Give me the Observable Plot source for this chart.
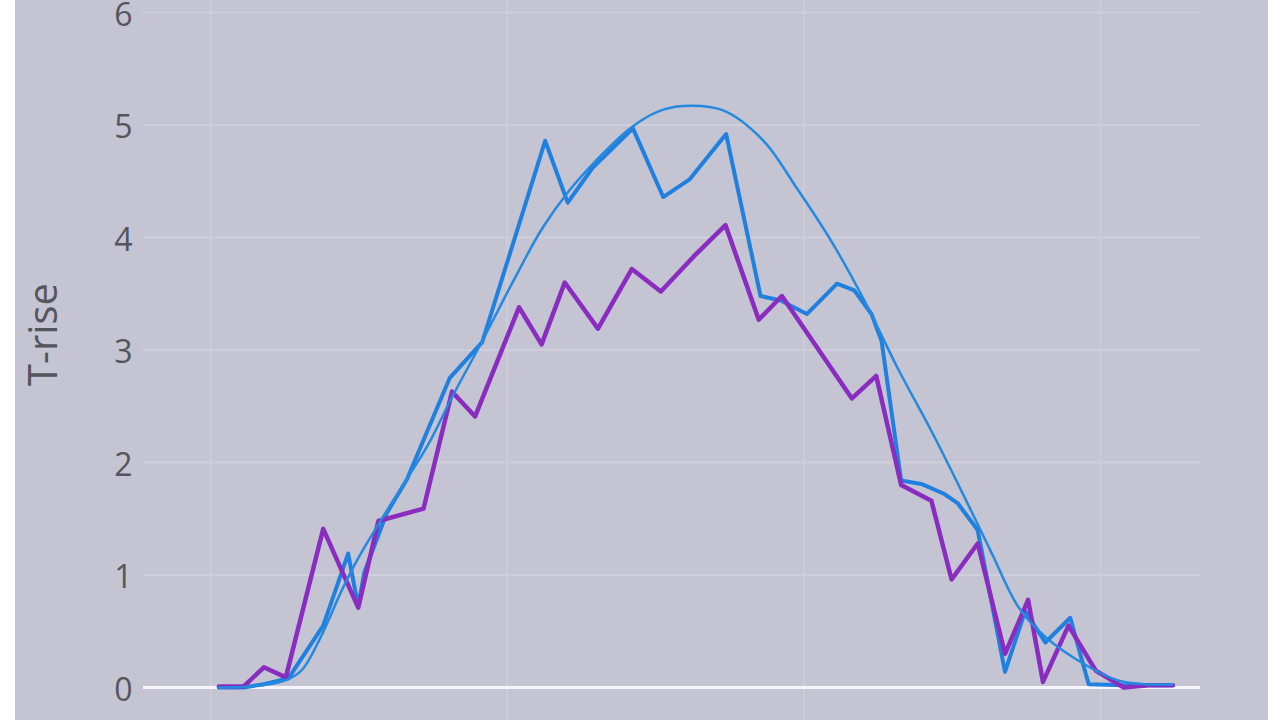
<!DOCTYPE html>
<html><head><meta charset="utf-8">
<script src="https://cdn.jsdelivr.net/npm/d3@7"></script>
<script src="https://cdn.jsdelivr.net/npm/@observablehq/plot@0.6"></script>
<style>
html,body{margin:0;padding:0;background:#fff;width:1280px;height:720px;overflow:hidden}
#chart{position:absolute;left:15px;top:0;width:1253px;height:720px;background:#c4c4d2}
</style></head><body><div id="chart"></div>
<script>
// Measured series (x in hours-like units, y = T-rise)
const purpleX = [5.14,5.56,5.90,6.27,6.90,7.49,7.83,8.59,9.07,9.46,10.20,10.58,10.97,11.53,12.10,12.59,13.14,13.68,14.24,14.63,15.20,15.81,16.22,16.64,17.15,17.49,17.93,18.39,18.78,19.03,19.46,19.92,20.39,20.81,21.22];
const purpleY = [0.01,0.01,0.18,0.09,1.41,0.71,1.48,1.59,2.63,2.41,3.38,3.05,3.60,3.19,3.72,3.52,3.83,4.11,3.27,3.48,3.04,2.57,2.77,1.80,1.66,0.96,1.28,0.30,0.78,0.05,0.55,0.15,0.00,0.02,0.02];

const blueX = [5.14,5.56,5.90,6.31,6.90,7.32,7.49,7.59,7.97,8.31,9.03,9.58,10.64,11.02,11.44,12.12,12.63,13.08,13.69,14.27,14.61,15.05,15.56,15.85,16.14,16.31,16.64,16.98,17.37,17.59,17.93,18.39,18.73,19.07,19.49,19.80,20.39,21.22];
const blueY = [0.00,0.00,0.03,0.08,0.55,1.19,0.72,1.02,1.55,1.85,2.75,3.07,4.86,4.31,4.62,4.97,4.36,4.52,4.92,3.48,3.44,3.32,3.59,3.53,3.32,3.08,1.84,1.81,1.72,1.64,1.40,0.14,0.68,0.40,0.62,0.03,0.02,0.02];

const fitX = [5.14,5.68,6.24,6.53,6.86,7.20,7.49,7.83,8.22,8.68,9.07,9.58,10.14,10.59,11.05,11.49,12.07,12.54,12.97,13.64,14.32,14.88,15.46,16.02,16.58,17.15,17.71,18.17,18.61,19.07,19.75,20.31,20.76,21.22];
const fitY = [0.00,0.01,0.06,0.15,0.45,0.85,1.15,1.45,1.78,2.17,2.58,3.08,3.65,4.08,4.42,4.68,4.97,5.12,5.17,5.13,4.86,4.44,3.97,3.44,2.84,2.28,1.69,1.19,0.72,0.45,0.20,0.06,0.03,0.03];

const yTicks = [0,1,2,3,4,5,6];
const xGrid = [5,10,15,20];
const yLabel = "T-rise";

const toRows = (xs, ys) => xs.map((x, i) => ({x, y: ys[i]}));
const purple = toRows(purpleX, purpleY);
const blue = toRows(blueX, blueY);
const fit = toRows(fitX, fitY);

const chart = Plot.plot({
  width: 1253, height: 720,
  marginLeft: 128, marginRight: 68, marginTop: 0, marginBottom: 0,
  style: {background: "#c4c4d2", fontFamily: "'Open Sans', sans-serif", color: "#55555c", overflow: "visible"},
  x: {domain: [3.871, 21.685], axis: null},
  y: {domain: [-0.293, 6.107], axis: null},
  marks: [
    Plot.ruleX(xGrid, {stroke: "#cdcdda", strokeWidth: 2}),
    Plot.ruleY(yTicks.filter(v => v > 0), {stroke: "#cfcfdb", strokeWidth: 2}),
    Plot.ruleY([0], {stroke: "#f6f6fa", strokeWidth: 3}),
    Plot.axisY(yTicks, {tickSize: 0, tickPadding: 11, fontSize: 32, dy: 3, label: null, tickFormat: d3.format("d"), fill: "#55555c"}),
    Plot.line(blue, {x: "x", y: "y", stroke: "#1f80e0", strokeWidth: 4, strokeLinejoin: "round"}),
    Plot.line(purple, {x: "x", y: "y", stroke: "#8a2cbf", strokeWidth: 4.5, strokeLinejoin: "round"}),
    Plot.line(fit, {x: "x", y: "y", stroke: "#2489df", strokeWidth: 2.5, curve: "catmull-rom"}),
    Plot.text([yLabel], {text: d => d, frameAnchor: "left", textAnchor: "middle", dx: -99, dy: -26, rotate: -90, fontSize: 40, fill: "#55555c"})
  ]
});
document.getElementById("chart").appendChild(chart);
</script>
</body></html>
